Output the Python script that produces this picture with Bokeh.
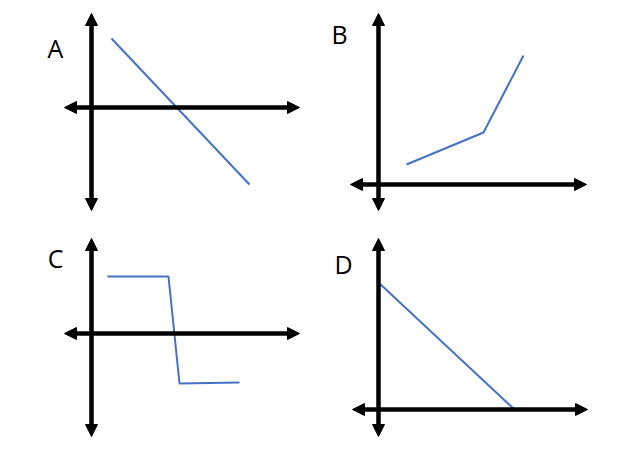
from bokeh.plotting import figure
from bokeh.layouts import column, row
from bokeh.models import Arrow, NormalHead, Range1d
from bokeh.core.properties import value
from bokeh.embed import file_html
from bokeh.resources import INLINE

# panel letters
labels = ["A", "B", "C", "D"]

# curve of each sketch (1 unit = 10 px in the picture)
a_x = [2.0, 15.8]
a_y = [6.9, -7.7]
b_x = [2.8, 10.5, 14.5]
b_y = [2.0, 5.2, 12.9]
c_x = [1.6, 7.7, 8.8, 14.8]
c_y = [5.7, 5.7, -5.0, -4.9]
d_x = [0.0, 13.6]
d_y = [12.7, 0.0]

LINE = "#4472C4"


def panel(label, xs, ys, x0, ytop, xax, yax, lab_xy, h=216):
    # 10 px per unit; view starts at x0 (left) and ytop (top)
    p = figure(width=304, height=h, output_backend="svg", toolbar_location=None,
               x_axis_type=None, y_axis_type=None, min_border=0,
               x_range=Range1d(x0, x0 + 30.4),
               y_range=Range1d(ytop - h / 10, ytop))
    p.outline_line_color = None
    p.xgrid.visible = False
    p.ygrid.visible = False

    # arrow axes through the origin
    for xa, ya, xb, yb in [(xax[0], 0, xax[1], 0), (0, yax[0], 0, yax[1])]:
        p.add_layout(Arrow(
            start=NormalHead(size=12, fill_color="black", line_color="black", line_width=1),
            end=NormalHead(size=12, fill_color="black", line_color="black", line_width=1),
            x_start=xa, y_start=ya, x_end=xb, y_end=yb,
            line_width=4.5, line_color="black"))

    p.line(xs, ys, line_color=LINE, line_width=2)
    p.text(x=[lab_xy[0]], y=[lab_xy[1]], text=[label], text_font=value("Open Sans"),
           text_font_size="25px", text_align="center", text_baseline="middle",
           text_color="black")
    return p


pA = panel(labels[0], a_x, a_y, -9.1, 10.7, (-2.7, 20.8), (-10.3, 9.4), (-3.6, 6.0))
pB = panel(labels[1], b_x, b_y, -7.4, 18.4, (-2.8, 20.8), (-2.6, 17.1), (-3.9, 15.1))
pC = panel(labels[2], c_x, c_y, -9.1, 11.7, (-2.7, 20.8), (-10.3, 9.5), (-3.6, 7.6), h=226)
pD = panel(labels[3], d_x, d_y, -7.4, 19.3, (-2.6, 20.9), (-2.7, 17.1), (-3.5, 14.6), h=226)

p = column(row(pA, pB), row(pC, pD))

open("out.html", "w").write(file_html(p, INLINE))
